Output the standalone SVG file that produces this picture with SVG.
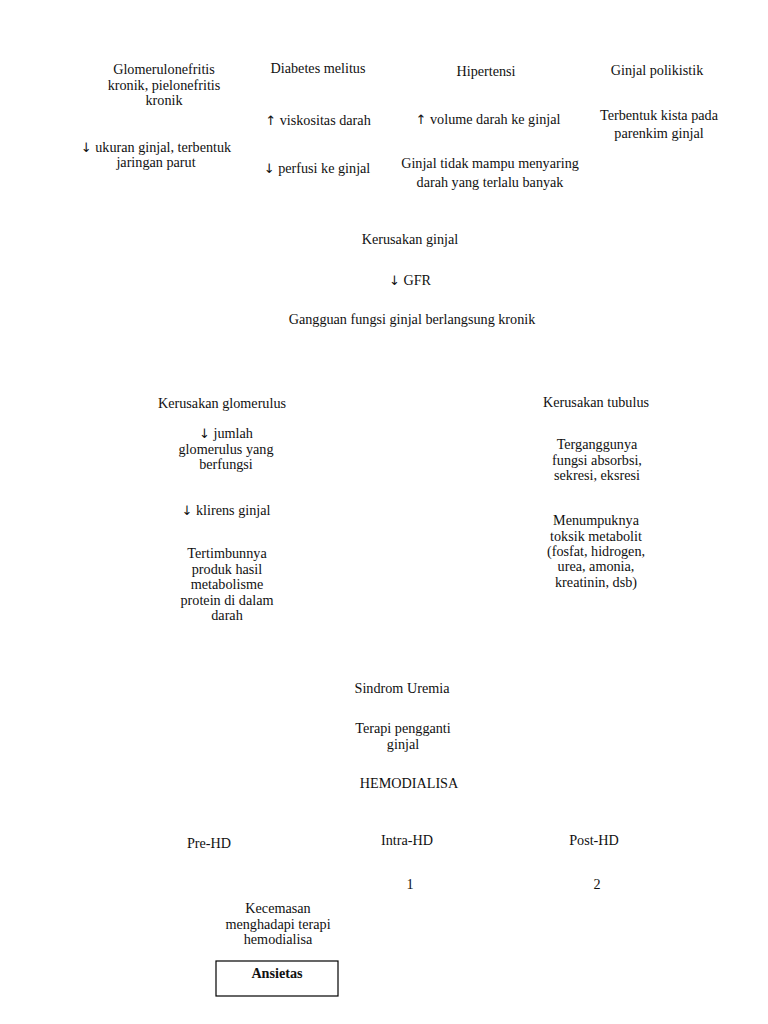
<svg xmlns="http://www.w3.org/2000/svg" width="768" height="1024" viewBox="0 0 768 1024">
<style>
text{font-family:"Liberation Serif","Times New Roman",serif;font-size:14.2px;fill:#111;text-anchor:middle}
.a{font-family:"DejaVu Sans",sans-serif;font-size:13px}
.b{font-weight:bold}
.box{fill:#fff;stroke:#000;stroke-width:1.2}
</style>
<rect width="768" height="1024" fill="#fff"/>
<g id="nodes" transform="translate(0,1)">
<g id="n-glomerulonefritis"><text x="164" y="73">Glomerulonefritis</text><text x="164" y="89">kronik, pielonefritis</text><text x="164" y="104">kronik</text></g>
<g id="n-ukuran"><text x="156" y="151"><tspan class="a">↓</tspan> ukuran ginjal, terbentuk</text><text x="156" y="166">jaringan parut</text></g>
<g id="n-diabetes"><text x="318" y="72">Diabetes melitus</text></g>
<g id="n-viskositas"><text x="318" y="124"><tspan class="a">↑</tspan> viskositas darah</text></g>
<g id="n-perfusi"><text x="317" y="172"><tspan class="a">↓</tspan> perfusi ke ginjal</text></g>
<g id="n-hipertensi"><text x="486" y="75">Hipertensi</text></g>
<g id="n-volume"><text x="488" y="123"><tspan class="a">↑</tspan> volume darah ke ginjal</text></g>
<g id="n-menyaring"><text x="490" y="167">Ginjal tidak mampu menyaring</text><text x="490" y="186">darah yang terlalu banyak</text></g>
<g id="n-polikistik"><text x="657" y="74">Ginjal polikistik</text></g>
<g id="n-kista"><text x="659" y="119">Terbentuk kista pada</text><text x="659" y="137">parenkim ginjal</text></g>
<g id="n-kerusakan-ginjal"><text x="410" y="243">Kerusakan ginjal</text></g>
<g id="n-gfr"><text x="410" y="284"><tspan class="a">↓</tspan> GFR</text></g>
<g id="n-gangguan"><text x="412" y="323">Gangguan fungsi ginjal berlangsung kronik</text></g>
<g id="n-glomerulus"><text x="222" y="407">Kerusakan glomerulus</text></g>
<g id="n-jumlah"><text x="226" y="437"><tspan class="a">↓</tspan> jumlah</text><text x="226" y="453">glomerulus yang</text><text x="226" y="468">berfungsi</text></g>
<g id="n-klirens"><text x="226" y="514"><tspan class="a">↓</tspan> klirens ginjal</text></g>
<g id="n-tertimbun"><text x="227" y="557">Tertimbunnya</text><text x="227" y="573">produk hasil</text><text x="227" y="588">metabolisme</text><text x="227" y="604">protein di dalam</text><text x="227" y="619">darah</text></g>
<g id="n-tubulus"><text x="596" y="406">Kerusakan tubulus</text></g>
<g id="n-terganggu"><text x="597" y="448">Terganggunya</text><text x="597" y="464">fungsi absorbsi,</text><text x="597" y="479">sekresi, eksresi</text></g>
<g id="n-menumpuk"><text x="596" y="524">Menumpuknya</text><text x="596" y="540">toksik metabolit</text><text x="596" y="555">(fosfat, hidrogen,</text><text x="596" y="570">urea, amonia,</text><text x="596" y="586">kreatinin, dsb)</text></g>
<g id="n-uremia"><text x="402" y="692">Sindrom Uremia</text></g>
<g id="n-terapi"><text x="403" y="732">Terapi pengganti</text><text x="403" y="748">ginjal</text></g>
<g id="n-hemodialisa"><text x="409" y="787">HEMODIALISA</text></g>
<g id="n-prehd"><text x="209" y="847">Pre-HD</text></g>
<g id="n-intrahd"><text x="407" y="844">Intra-HD</text></g>
<g id="n-posthd"><text x="594" y="844">Post-HD</text></g>
<g id="n-1"><text x="410" y="888">1</text></g>
<g id="n-2"><text x="597" y="888">2</text></g>
<g id="n-kecemasan"><text x="278" y="912">Kecemasan</text><text x="278" y="928">menghadapi terapi</text><text x="278" y="943">hemodialisa</text></g>
<g id="n-ansietas"><rect class="box" x="216" y="960" width="122" height="35"/><text class="b" x="277" y="977">Ansietas</text></g>
</g>
<g id="connectors"></g>
</svg>
